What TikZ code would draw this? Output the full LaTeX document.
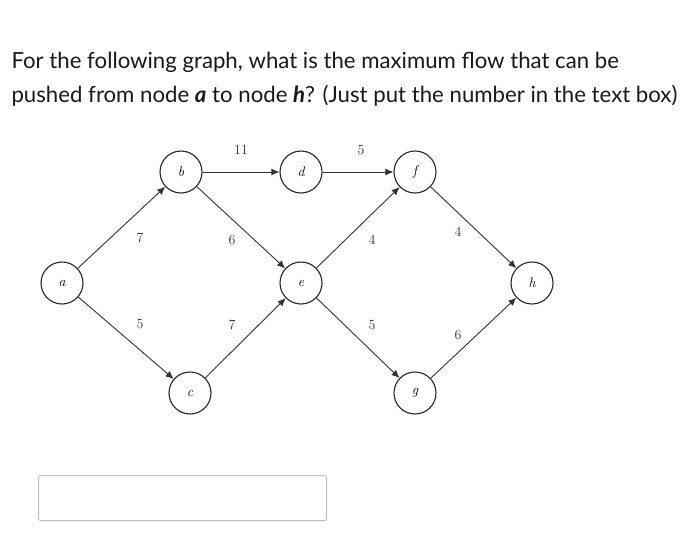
\documentclass[tikz,border=0pt]{standalone}
\usepackage{fontspec}
\setmainfont{Latin Modern Roman}
\newfontfamily\qfont{Lato}
\usetikzlibrary{arrows.meta}
\begin{document}
\begin{tikzpicture}[x=1pt,y=-1pt,
  vert/.style={draw=black!85,line width=1.1pt,circle,minimum size=42pt,inner sep=0pt,font=\fontsize{14}{14}\selectfont\itshape},
  edge/.style={draw=black!80,line width=0.9pt,-{Latex[length=8pt,width=7pt]}},
  wt/.style={font=\fontsize{14}{14}\selectfont,text=black!80}]
\useasboundingbox (0,0) rectangle (700,552);
\fill[white] (0,0) rectangle (700,552);
\node[anchor=west,font=\qfont\fontsize{22.2}{26}\selectfont,text=black!90] (q1) at (8,62) {For the following graph, what is the maximum flow that can be};
\node[anchor=west,font=\qfont\fontsize{22.2}{26}\selectfont,text=black!90] (q2) at (8,96) {pushed from node \textbf{\textit{a}} to node \textbf{\textit{h}}? (Just put the number in the text box)};
\node[vert] (a) at (62,283) {a};
\node[vert] (b) at (181,172) {b};
\node[vert] (c) at (190,393) {c};
\node[vert] (d) at (301,172) {d};
\node[vert] (e) at (301,283) {e};
\node[vert] (f) at (415,172) {f};
\node[vert] (g) at (415,393) {g};
\node[vert] (h) at (532,283) {h};
\draw[edge] (a) -- (b);
\draw[edge] (a) -- (c);
\draw[edge] (b) -- (d);
\draw[edge] (b) -- (e);
\draw[edge] (c) -- (e);
\draw[edge] (d) -- (f);
\draw[edge] (e) -- (f);
\draw[edge] (e) -- (g);
\draw[edge] (f) -- (h);
\draw[edge] (g) -- (h);
\node[wt] (w1) at (140,238) {7};
\node[wt] (w2) at (140,324) {5};
\node[wt] (w3) at (241,150) {11};
\node[wt] (w4) at (232,240) {6};
\node[wt] (w5) at (232,325) {7};
\node[wt] (w6) at (361,150) {5};
\node[wt] (w7) at (372,240) {4};
\node[wt] (w8) at (372,325) {5};
\node[wt] (w9) at (458,232) {4};
\node[wt] (w10) at (458,335) {6};
\node[draw=black!25,line width=1pt,rounded corners=2pt,minimum width=288pt,minimum height=45pt,anchor=north west] (box) at (38,475) {};
\end{tikzpicture}
\end{document}
